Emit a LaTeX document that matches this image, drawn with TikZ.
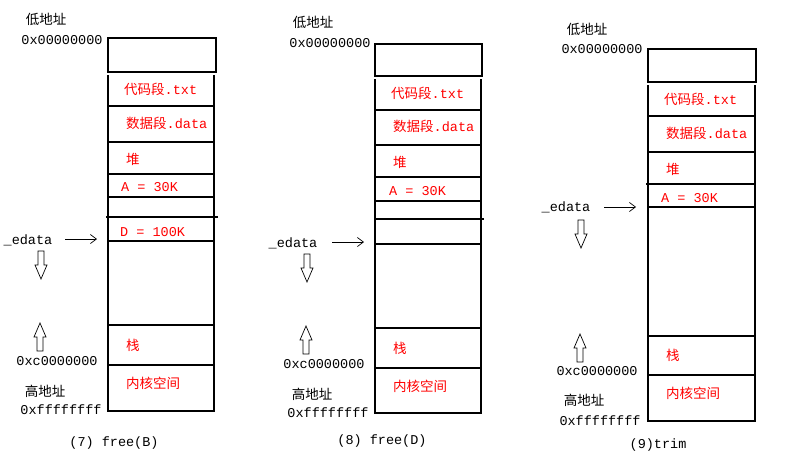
\documentclass[tikz,border=0pt]{standalone}
\usepackage{fontspec}
\usetikzlibrary{arrows.meta}
\setmainfont{Liberation Mono}
\newfontfamily\cjk{Noto Sans CJK SC}
\begin{document}
\begin{tikzpicture}[x=1pt,y=-1pt,
  box/.style={draw,line width=2.8pt},
  sep/.style={line width=2.8pt},
  lbl/.style={font=\fontsize{13.5}{13.5}\selectfont,inner sep=0pt},
  seg/.style={lbl,text=red,anchor=west},
  thin/.style={line width=0.7pt},
  ptr/.style={thin,-{Straight Barb[length=6pt,width=9pt]}}]
\useasboundingbox (0,0) rectangle (810,466);
% hollow arrows
\newcommand\hdown[2]{\draw[thin] (#1-3,#2-14) -- (#1+3,#2-14) -- (#1+3,#2) -- (#1+6,#2) -- (#1,#2+14) -- (#1-6,#2) -- (#1-3,#2) -- cycle;}
\newcommand\hup[2]{\draw[thin] (#1-3,#2+14) -- (#1+3,#2+14) -- (#1+3,#2) -- (#1+6,#2) -- (#1,#2-14) -- (#1-6,#2) -- (#1-3,#2) -- cycle;}
% ---------------- panel 1
\draw[box] (108,38) rectangle (216,72);
\draw[box] (108,75) -- (108,411) -- (214,411) -- (214,75);
\foreach \y in {106,142,174,197,241,325,365} \draw[sep] (108,\y) -- (214,\y);
\draw[sep] (106,217) -- (218,217);
\node[seg] (a1) at (124,89) {{\cjk 代码段}.txt};
\node[seg] (b1) at (126,123) {{\cjk 数据段}.data};
\node[seg] (c1) at (126,159) {\cjk 堆};
\node[seg] (d1) at (121,187) {A = 30K};
\node[seg] (e1) at (120,232) {D = 100K};
\node[seg] (f1) at (126,345) {\cjk 栈};
\node[seg] (g1) at (126,383) {\cjk 内核空间};
\node[lbl] (l1) at (46,19) {\cjk 低地址};
\node[lbl] (z1) at (62,40) {0x00000000};
\node[lbl] (ed1) at (28,240) {\_edata};
\coordinate (s1) at (65,239); \coordinate (t1) at (97,239);
\draw[ptr] (s1) -- (t1);
\hdown{41}{265}
\hup{40}{337}
\node[lbl] (c01) at (57,361) {0xc0000000};
\node[lbl] (h1) at (45,391) {\cjk 高地址};
\node[lbl] (f01) at (61,410) {0xffffffff};
\node[lbl] (cap1) at (114,443) {(7) free(B)};
% ---------------- panel 2
\draw[box] (375,44) rectangle (482,76);
\draw[box] (375,79) -- (375,413) -- (481,413) -- (481,79);
\foreach \y in {110,145,177,201,244,328,368} \draw[sep] (375,\y) -- (481,\y);
\draw[sep] (375,219) -- (484,219);
\node[seg] (a2) at (391,93) {{\cjk 代码段}.txt};
\node[seg] (b2) at (393,126) {{\cjk 数据段}.data};
\node[seg] (c2) at (393,162) {\cjk 堆};
\node[seg] (d2) at (389,191) {A = 30K};
\node[seg] (f2) at (393,348) {\cjk 栈};
\node[seg] (g2) at (393,386) {\cjk 内核空间};
\node[lbl] (l2) at (313,22) {\cjk 低地址};
\node[lbl] (z2) at (330,43) {0x00000000};
\node[lbl] (ed2) at (293,243) {\_edata};
\coordinate (s2) at (332,242); \coordinate (t2) at (364,242);
\draw[ptr] (s2) -- (t2);
\hdown{307}{268}
\hup{306}{340}
\node[lbl] (c02) at (324,364) {0xc0000000};
\node[lbl] (h2) at (312,394) {\cjk 高地址};
\node[lbl] (f02) at (328,413) {0xffffffff};
\node[lbl] (cap2) at (382,441) {(8) free(D)};
% ---------------- panel 3
\draw[box] (648,49) rectangle (756,82);
\draw[box] (648,85) -- (648,421) -- (755,421) -- (755,85);
\foreach \y in {116,152,207,336,375} \draw[sep] (648,\y) -- (755,\y);
\draw[sep] (646,184) -- (755,184);
\node[seg] (a3) at (664,99) {{\cjk 代码段}.txt};
\node[seg] (b3) at (666,133) {{\cjk 数据段}.data};
\node[seg] (c3) at (666,169) {\cjk 堆};
\node[seg] (d3) at (661,198) {A = 30K};
\node[seg] (f3) at (666,355) {\cjk 栈};
\node[seg] (g3) at (666,393) {\cjk 内核空间};
\node[lbl] (l3) at (587,29) {\cjk 低地址};
\node[lbl] (z3) at (602,49) {0x00000000};
\node[lbl] (ed3) at (566,207) {\_edata};
\coordinate (s3) at (604,207); \coordinate (t3) at (636,207);
\draw[ptr] (s3) -- (t3);
\hdown{581}{234}
\hup{580}{348}
\node[lbl] (c03) at (597,371) {0xc0000000};
\node[lbl] (h3) at (584,400) {\cjk 高地址};
\node[lbl] (f03) at (600,421) {0xffffffff};
\node[lbl] (cap3) at (658,445) {(9)trim};
\end{tikzpicture}
\end{document}
